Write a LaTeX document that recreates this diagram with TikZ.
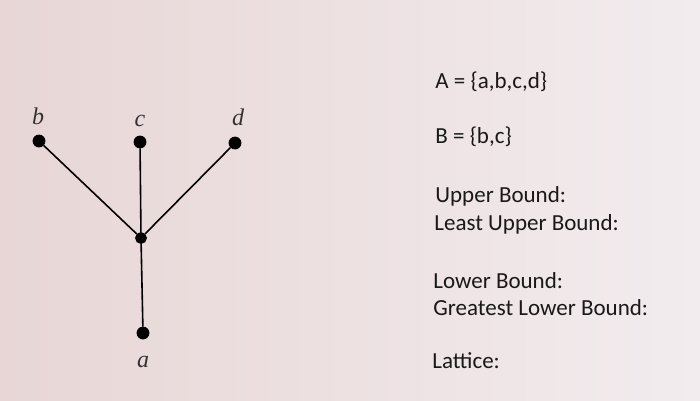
\documentclass[tikz,border=0pt]{standalone}
\usepackage{fontspec}
\setmainfont{Carlito}
\newfontfamily\labfont{Liberation Serif}
\usepackage{tikz}

\definecolor{screenL}{RGB}{232,214,214}
\definecolor{screenR}{RGB}{242,236,238}

\begin{document}
\begin{tikzpicture}[x=1pt, y=-1pt, thick,
  main/.style = {draw, circle, fill=black, inner sep=0pt, minimum size=12pt},
  lab/.style = {inner sep=0pt, font=\labfont\itshape\fontsize{24}{24}\selectfont, text=black!80},
  txt/.style = {anchor=base west, inner sep=0pt, font=\fontsize{23}{23}\selectfont, text=black!90}]
\useasboundingbox (0,0) rectangle (700,400);
\shade[left color=screenL, right color=screenR] (0,0) rectangle (700,400);

\node[main] (1) at (143,333) {};
\node[main] (2) at (39,141) {};
\node[main] (3) at (140,142) {};
\node[main] (4) at (235,143) {};
\node[main,minimum size=11pt] (5) at (141,238) {};

\node[lab] (la) at (143,362) {a};
\node[lab] (lb) at (38,116) {b};
\node[lab] (lc) at (140,121) {c};
\node[lab] (ld) at (238,117) {d};

\draw[line width=1.6pt] (2) -- (5);
\draw[line width=1.6pt] (3) -- (5);
\draw[line width=1.6pt] (4) -- (5);
\draw[line width=1.6pt] (5) -- (1);

\node[txt] (6) at (435,88) {A = \{a,b,c,d\}};
\node[txt] (7) at (435,143) {B = \{b,c\}};
\node[txt] (8) at (435,202) {Upper Bound:};
\node[txt] (9) at (434,230) {Least Upper Bound:};
\node[txt] (10) at (433,288) {Lower Bound:};
\node[txt] (11) at (433,315) {Greatest Lower Bound:};
\node[txt] (12) at (432,368) {Lattice:};
\end{tikzpicture}
\end{document}
